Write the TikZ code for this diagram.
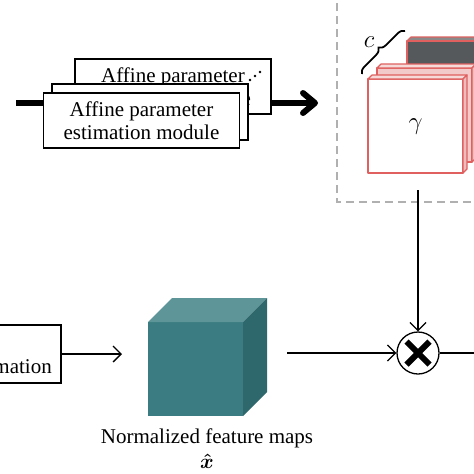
\documentclass[tikz,border=0pt]{standalone}
\usepackage{amsmath}
\usepackage{fontspec}
\setmainfont{Liberation Serif}
\usetikzlibrary{arrows.meta,decorations.pathreplacing,calc}
\definecolor{redl}{HTML}{E06060}
\definecolor{pinktop}{HTML}{F6DADA}
\definecolor{pinkside}{HTML}{EDBDBD}
\definecolor{pinkback}{HTML}{F2CACA}
\definecolor{darkbox}{HTML}{56595B}
\definecolor{darktop}{HTML}{8A8A8A}
\definecolor{tealfront}{HTML}{3A7C82}
\definecolor{tealtop}{HTML}{5D9599}
\definecolor{tealside}{HTML}{2E686D}
\definecolor{dashgray}{HTML}{B0B0B0}
\newcommand\bigfnt{\fontsize{21}{23.5}\selectfont}
\newcommand\symfnt{\fontsize{28}{31}\selectfont}
\tikzset{
  affbox/.style={draw, line width=1.8pt, fill=white, minimum width=196pt, minimum height=55pt, align=center, font=\bigfnt, inner sep=0pt},
  thinarrow/.style={line width=1.3pt, -{Straight Barb[length=8pt,width=16pt]}},
  thickarrow/.style={line width=6pt, -{Straight Barb[length=12pt,width=20pt,round]}},
  slab/.style={draw=redl, line width=1.2pt, line join=round},
  lbl/.style={font=\bigfnt, inner sep=0pt},
  symlbl/.style={font=\symfnt, inner sep=0pt},
}
\begin{document}
\begin{tikzpicture}[x=1pt,y=-1pt]
\useasboundingbox (0,0) rectangle (474,474);
\clip (0,0) rectangle (474,474);
\fill[white] (0,0) rectangle (474,474);

% dashed gamma/beta region
\draw[dashgray, line width=1.5pt, dash pattern=on 8pt off 5pt] (337,-10) rectangle (490,202);

% dark (beta) box behind
\fill[darkbox] (407,41) rectangle (480,120);
\draw[slab, fill=darktop] (407,41) -- (411,37) -- (480,37) -- (480,41) -- cycle;
\draw[slab] (407,120) -- (407,41) -- (480,41);

% second slab
\draw[slab, fill=pinkback] (377,68) rectangle (472,162);
\draw[slab, fill=pinktop] (377,68) -- (381,64) -- (476,64) -- (472,68) -- cycle;
\draw[slab, fill=pinkside] (472,68) -- (476,64) -- (476,158) -- (472,162) -- cycle;

% front slab
\draw[slab, fill=white] (368,79) rectangle (463,173);
\draw[slab, fill=pinktop] (368,79) -- (372,75) -- (467,75) -- (463,79) -- cycle;
\draw[slab, fill=pinkside] (463,79) -- (467,75) -- (467,169) -- (463,173) -- cycle;
\node[symlbl] (gamma) at (415.5,127) {$\gamma$};

% brace and c
\draw[decorate, decoration={brace, amplitude=7pt}, line width=1.8pt] (362,74) -- (405,31);
\node[symlbl] (clab) at (369,42) {$c$};

% thick arrow through affine modules
\coordinate (tin) at (16,103);
\coordinate (tout) at (318,103);
\draw[thickarrow] (tin) -- (tout);

% affine parameter estimation modules
\node[affbox] (back) at (173,86.5) {Affine parameter\\estimation module};
\fill (250,80) circle (1.3pt) (255,76) circle (1.3pt) (260,72) circle (1.3pt);
\node[affbox, minimum height=56pt] (mid) at (150,112) {};
\node[affbox] (front) at (141.5,120.5) {Affine parameter\\estimation module};

% left box (cut off)
\node[draw, line width=1.5pt, minimum width=121pt, minimum height=58pt, inner sep=0pt] (lbox) at (0.5,354) {};
\node[lbl, anchor=base east] (ltext) at (52,373) {mation};
\coordinate (toCube) at (122,354);
\draw[thinarrow] (lbox.east) -- (toCube);

% teal cube
\fill[tealfront] (148,322) rectangle (243,416);
\fill[tealtop] (148,322) -- (172,298) -- (267,298) -- (243,322) -- cycle;
\fill[tealside] (243,322) -- (267,298) -- (267,392) -- (243,416) -- cycle;
\node[lbl] (nlab) at (207,438) {Normalized feature maps};
\node[lbl] (xhat) at (207,461) {$\boldsymbol{\hat{x}}$};

% multiplication
\node[draw, circle, line width=1.3pt, minimum size=42pt, inner sep=0pt] (mul) at (418,353) {};
\draw[line width=6pt] ($(mul)+(-11.5,-11.5)$) -- ($(mul)+(11.5,11.5)$);
\draw[line width=6pt] ($(mul)+(-11.5,11.5)$) -- ($(mul)+(11.5,-11.5)$);

\coordinate (gdown) at (418,190);
\draw[thinarrow] (gdown) -- (mul.north);
\coordinate (cubeout) at (287,353);
\draw[thinarrow] (cubeout) -- (mul.west);
\coordinate (rout) at (480,353);
\draw[line width=1.3pt] (mul.east) -- (rout);
\end{tikzpicture}
\end{document}
